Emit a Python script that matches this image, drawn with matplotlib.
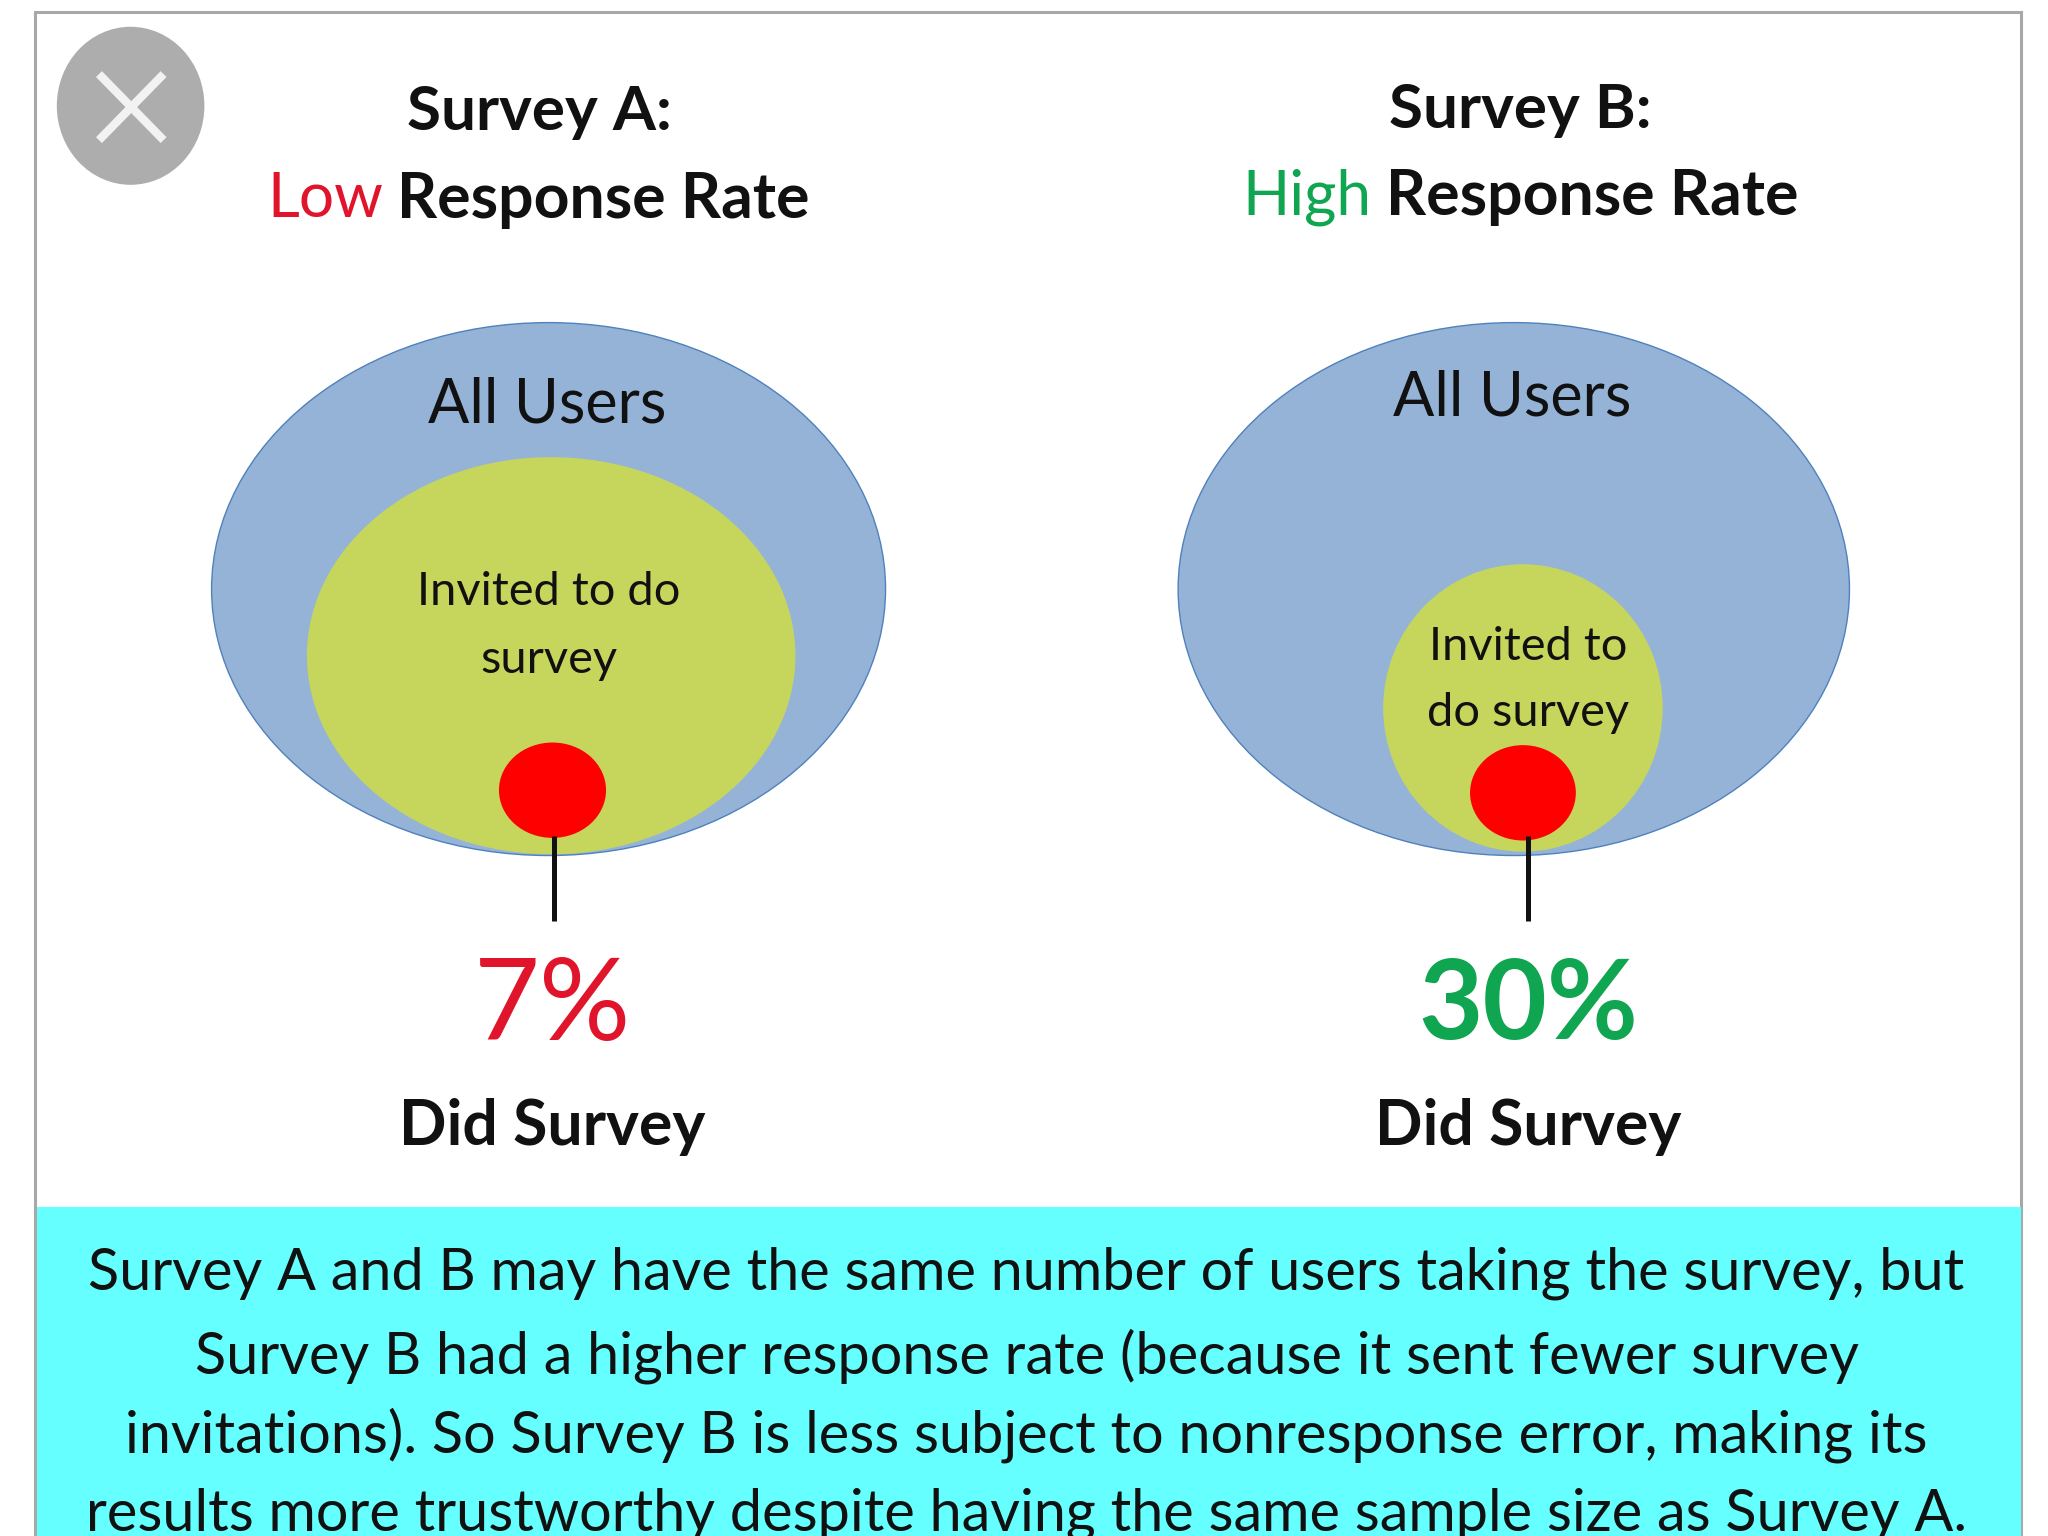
import matplotlib
matplotlib.use("Agg")
import matplotlib.pyplot as plt
from matplotlib.patches import Ellipse, Rectangle
from matplotlib.lines import Line2D

plt.rcParams['font.family'] = ['Lato', 'DejaVu Sans']

survey_names = ["Survey A:", "Survey B:"]
rate_words = ["Low", "High"]
rate_rest = "Response Rate"
response_rates = ["7%", "30%"]
population_label = "All Users"
invited_labels = ["Invited to do\nsurvey", "Invited to\ndo survey"]
did_label = "Did Survey"
caption_lines = [
    "Survey A and B may have the same number of users taking the survey, but",
    "Survey B had a higher response rate (because it sent fewer survey",
    "invitations). So Survey B is less subject to nonresponse error, making its",
    "results more trustworthy despite having the same sample size as Survey A.",
]
RED = "#e0142a"
GREEN = "#10a550"
BLUE = "#95b3d7"
YELLOW = "#c6d65c"
CYAN = "#66ffff"
K = "#111111"

fig = plt.figure(figsize=(20.48, 15.36), dpi=100)
ax = fig.add_axes([0, 0, 1, 1])
ax.set_xlim(0, 1568)
ax.set_ylim(1176, 0)
ax.axis("off")

# frame and caption band
ax.add_patch(Rectangle((27, 9), 1520, 1180, fc="white", ec="#a8a8a8", lw=2.2, zorder=0))
ax.add_patch(Rectangle((28, 924), 1519, 260, fc=CYAN, ec="none", zorder=1))

# close button
ax.add_patch(Ellipse((100, 81), 113, 121, fc="#adadad", ec="none", zorder=2))
ax.add_line(Line2D([78, 123], [59, 105], color="#f2f2f2", lw=6, zorder=3))
ax.add_line(Line2D([78, 123], [105, 59], color="#f2f2f2", lw=6, zorder=3))

# Survey A diagram
ax.add_patch(Ellipse((420, 451), 516, 408, fc=BLUE, ec="#4f81bd", lw=1, zorder=2))
ax.add_patch(Ellipse((422, 502), 374, 304, fc=YELLOW, ec="none", zorder=3))
ax.add_patch(Ellipse((423, 605), 82, 73, fc="#ff0000", ec="none", zorder=4))
ax.add_line(Line2D([424, 424], [640, 705], color=K, lw=3.6, solid_capstyle="butt", zorder=5))

# Survey B diagram
ax.add_patch(Ellipse((1159, 451), 514, 408, fc=BLUE, ec="#4f81bd", lw=1, zorder=2))
ax.add_patch(Ellipse((1166, 542), 214, 220, fc=YELLOW, ec="none", zorder=3))
ax.add_patch(Ellipse((1166, 607), 81, 73, fc="#ff0000", ec="none", zorder=4))
ax.add_line(Line2D([1170, 1170], [640, 705], color=K, lw=3.6, solid_capstyle="butt", zorder=5))

def T(x, y, s, size, color=K, weight="normal", ha="center"):
    ax.text(x, y, s, fontsize=size, color=color, fontweight=weight, ha=ha, va="center", zorder=6)

# Titles
T(413, 86, survey_names[0], 44.7, weight="bold")
T(205, 153, rate_words[0], 44.7, color=RED, ha="left")
T(304, 153, rate_rest, 45, weight="bold", ha="left")
T(1164, 84, survey_names[1], 44.7, weight="bold")
T(951, 151, rate_words[1], 44.7, color=GREEN, ha="left")
T(1061, 151, rate_rest, 45, weight="bold", ha="left")

# Ellipse labels
T(419, 310, population_label, 44)
T(1158, 305, population_label, 44)
T(420, 453, invited_labels[0].split("\n")[0], 33.8)
T(420, 505, invited_labels[0].split("\n")[1], 33.8)
T(1170, 495, invited_labels[1].split("\n")[0], 33.8)
T(1170, 546, invited_labels[1].split("\n")[1], 33.8)

# Rates
T(423, 772, response_rates[0], 82, color=RED)
T(1170, 771, response_rates[1], 80, color=GREEN, weight="bold")
T(423, 863, did_label, 45, weight="bold")
T(1170, 863, did_label, 45, weight="bold")

# Caption
for y, line in zip([975, 1038, 1099, 1159], caption_lines):
    T(786, y, line, 41.5)

fig.savefig("out.png", dpi=100)
